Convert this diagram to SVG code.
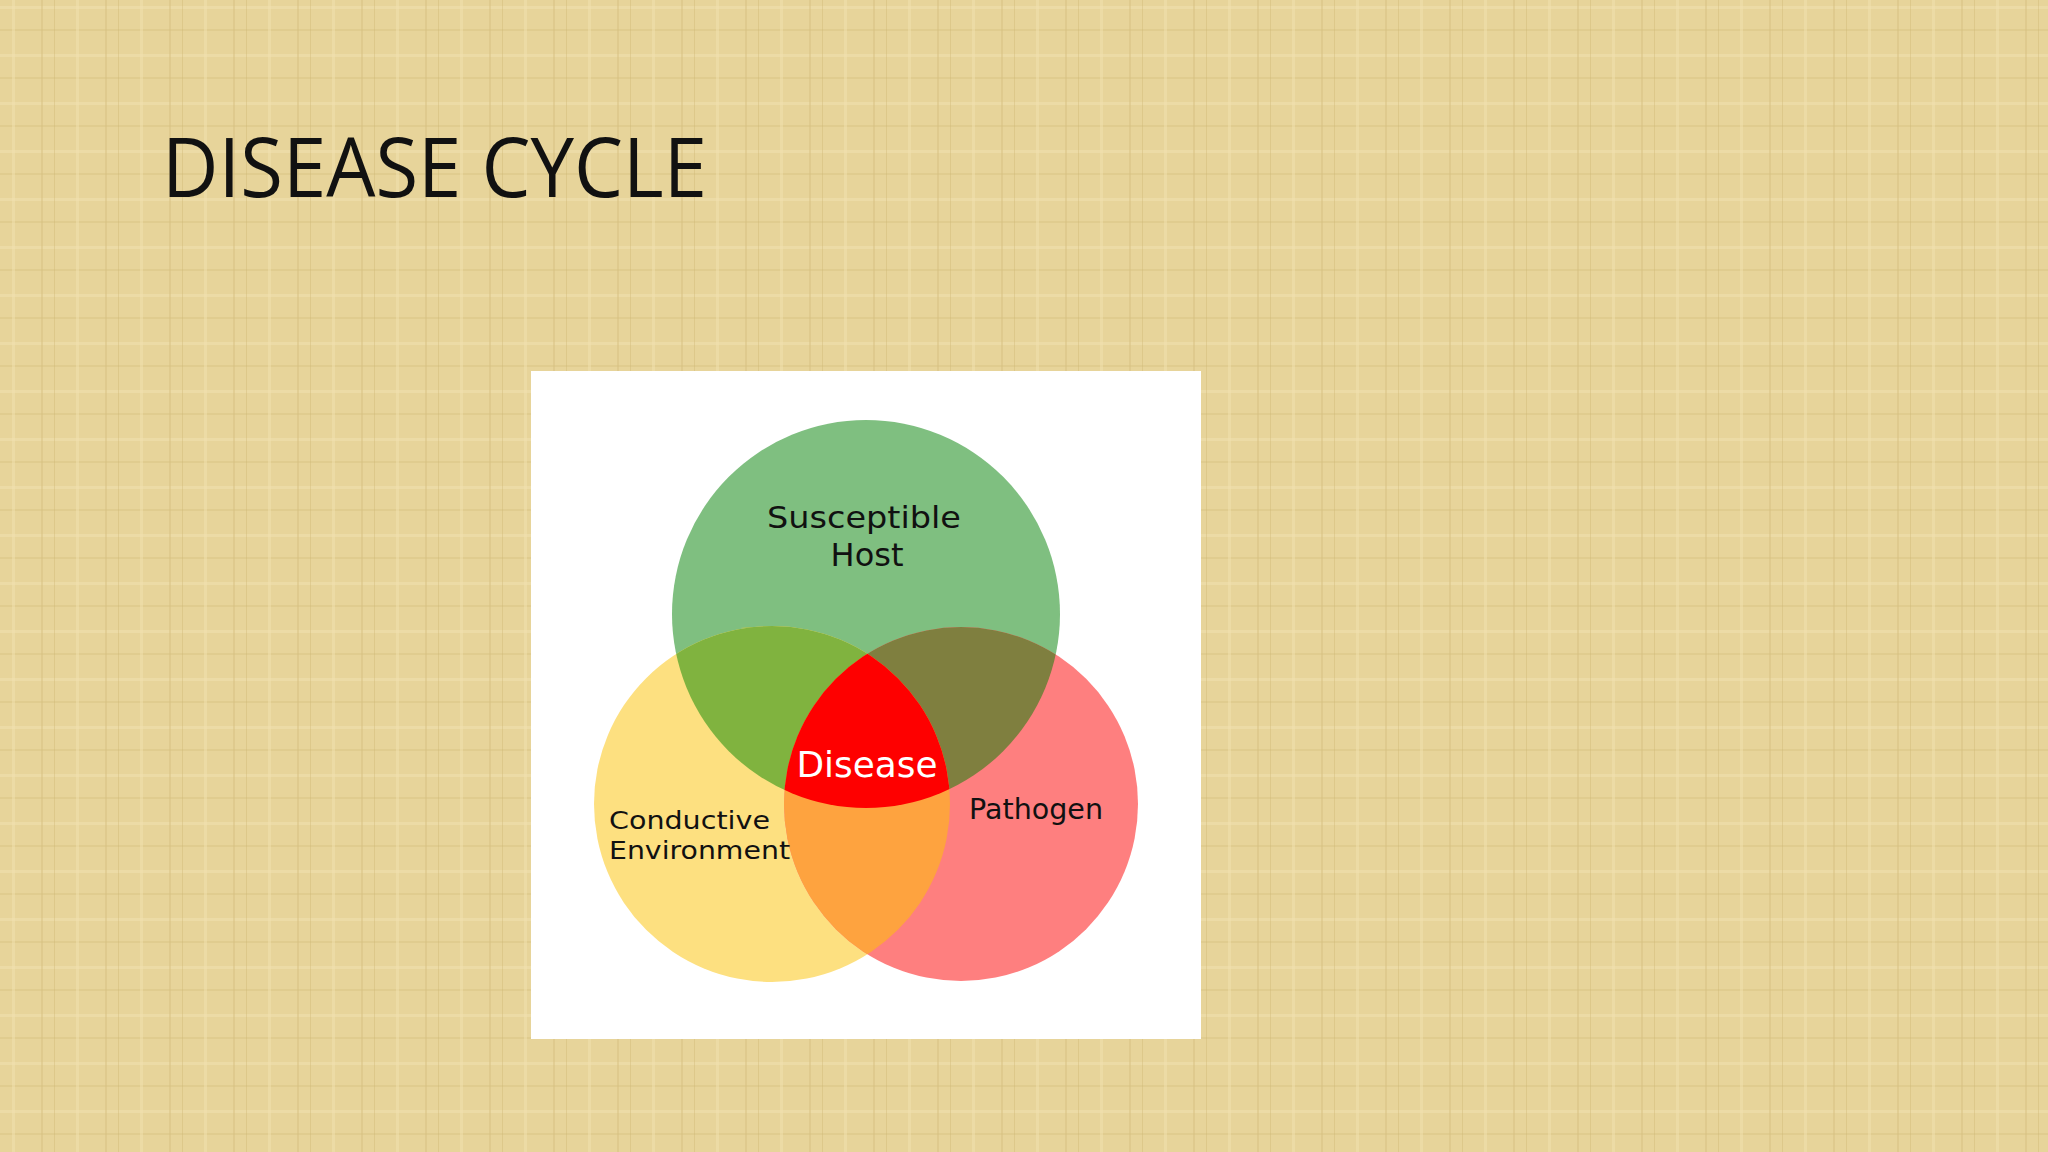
<svg xmlns="http://www.w3.org/2000/svg" width="2048" height="1152" viewBox="0 0 2048 1152">
  <defs>
    <pattern id="weave" x="0" y="0" width="64" height="48" patternUnits="userSpaceOnUse">
      <rect width="64" height="48" fill="#e7d49a"/>
      <rect x="0" y="6" width="64" height="3" fill="#f0e0ad" opacity="0.6"/>
      <rect x="0" y="29" width="64" height="2" fill="#d9c483" opacity="0.5"/>
      <rect x="12" y="0" width="3" height="48" fill="#f1e2b0" opacity="0.5"/>
      <rect x="41" y="0" width="2" height="48" fill="#d6c07f" opacity="0.45"/>
      <rect x="54" y="0" width="1" height="48" fill="#ccb672" opacity="0.4"/>
    </pattern>
    <clipPath id="cG"><circle cx="866" cy="614" r="194"/></clipPath>
    <clipPath id="cY"><circle cx="772" cy="804" r="178"/></clipPath>
    <clipPath id="cR"><circle cx="961" cy="804" r="177"/></clipPath>
    <style>
      .lbl { font-family: "DejaVu Sans", "Liberation Sans", sans-serif; fill: #111; }
    </style>
  </defs>

  <rect width="2048" height="1152" fill="url(#weave)"/>

  <text x="162" y="197" font-family="'Open Sans', 'Liberation Sans', sans-serif" font-weight="400" font-size="82" fill="#111" textLength="545" lengthAdjust="spacingAndGlyphs">DISEASE CYCLE</text>

  <rect x="531" y="371" width="670" height="668" fill="#ffffff"/>

  <g id="venn">
    <g id="host"><circle cx="866" cy="614" r="194" fill="#7fbf80"/></g>
    <g id="environment"><circle cx="772" cy="804" r="178" fill="#fde080"/></g>
    <g id="pathogen"><circle cx="961" cy="804" r="177" fill="#fe7f7f"/></g>
    <g id="host-env" clip-path="url(#cG)"><circle cx="772" cy="804" r="178" fill="#80b33f"/></g>
    <g id="host-path" clip-path="url(#cG)"><circle cx="961" cy="804" r="177" fill="#7f7f3f"/></g>
    <g id="env-path" clip-path="url(#cY)"><circle cx="961" cy="804" r="177" fill="#fea33f"/></g>
    <g id="disease" clip-path="url(#cG)"><g clip-path="url(#cY)"><circle cx="961" cy="804" r="177" fill="#fe0000"/></g></g>
  </g>

  <g id="labels">
    <text class="lbl" x="864" y="528" font-size="31" text-anchor="middle" textLength="194" lengthAdjust="spacingAndGlyphs">Susceptible</text>
    <text class="lbl" x="867" y="566" font-size="32" text-anchor="middle">Host</text>
    <text x="867" y="777" font-family="'DejaVu Sans', 'Liberation Sans', sans-serif" font-size="35" fill="#ffffff" text-anchor="middle" textLength="141" lengthAdjust="spacingAndGlyphs">Disease</text>
    <text class="lbl" x="969" y="819" font-size="29" textLength="134" lengthAdjust="spacingAndGlyphs">Pathogen</text>
    <text class="lbl" x="609" y="829" font-size="25" textLength="161" lengthAdjust="spacingAndGlyphs">Conductive</text>
    <text class="lbl" x="609" y="859" font-size="25" textLength="181" lengthAdjust="spacingAndGlyphs">Environment</text>
  </g>
</svg>
